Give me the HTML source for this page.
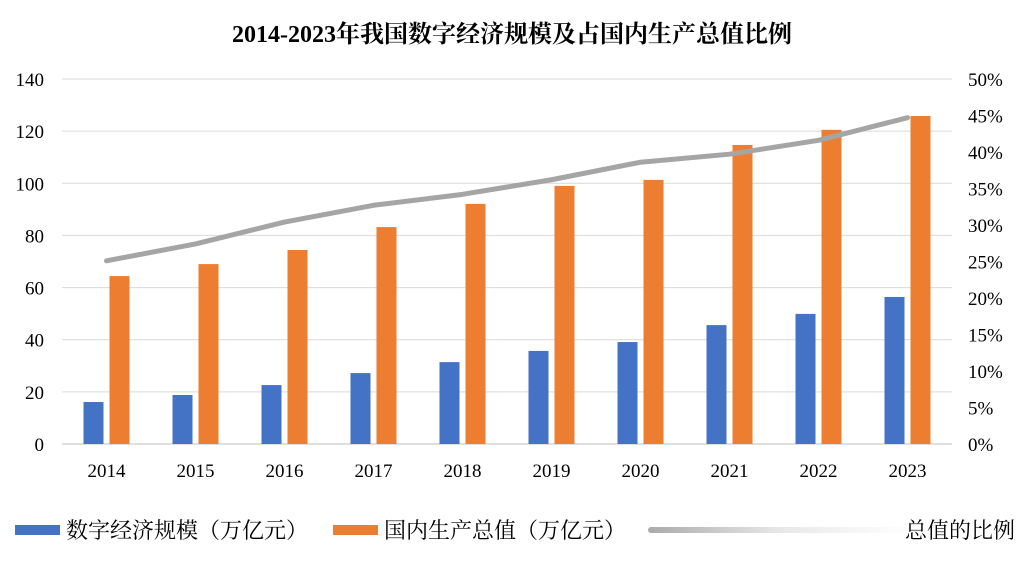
<!DOCTYPE html>
<html><head><meta charset="utf-8"><style>
body{margin:0;background:#fff;}
svg text{font-family:"Liberation Serif","Noto Serif CJK SC","Noto Sans CJK SC",serif;}
</style></head><body>
<svg width="1024" height="575" xmlns="http://www.w3.org/2000/svg">
<defs><linearGradient id="fade" x1="0" x2="1"><stop offset="0" stop-color="#aaa"/><stop offset="0.5" stop-color="#e8e8e8"/><stop offset="1" stop-color="#fff"/></linearGradient></defs>
<text x="512" y="42" text-anchor="middle" font-size="24" font-weight="bold">2014-2023年我国数字经济规模及占国内生产总值比例</text>
<g id="grid"></g><g id="bars"></g><g id="line"></g><g id="axes"></g>
<g>
<rect x="15" y="525" width="45" height="10" fill="#4472C4"/>
<text x="66" y="538" font-size="22">数字经济规模（万亿元）</text>
<rect x="333" y="525" width="45" height="10" fill="#ED7D31"/>
<text x="384" y="538" font-size="22">国内生产总值（万亿元）</text>
<rect x="648" y="527" width="265" height="6" rx="3" fill="url(#fade)"/>
<text x="1015" y="538" font-size="22" text-anchor="end">总值的比例</text>
</g>
</svg>
<script>
const years=["2014","2015","2016","2017","2018","2019","2020","2021","2022","2023"];
const digital=[16.1,18.8,22.6,27.2,31.4,35.7,39.1,45.6,49.9,56.4];
const gdp=[64.4,69.0,74.4,83.2,92.1,99.0,101.3,114.7,120.5,125.8];
const ratio=[25.1,27.4,30.4,32.7,34.2,36.2,38.6,39.7,41.6,44.7];
const leftTicks=[0,20,40,60,80,100,120,140];
const rightTicks=["0%","5%","10%","15%","20%","25%","30%","35%","40%","45%","50%"];
const NS="http://www.w3.org/2000/svg";
const x0=62,x1=952,yB=444,yT=79;
const yL=v=>yB-(v/140)*(yB-yT);
const yR=v=>yB-(v/50)*(yB-yT);
const step=(x1-x0)/years.length;
const xc=i=>x0+step*(i+0.5);
function mk(t,a,p){const e=document.createElementNS(NS,t);for(const k in a)e.setAttribute(k,a[k]);p.appendChild(e);return e;}
const g=document.getElementById('grid'),b=document.getElementById('bars'),l=document.getElementById('line'),ax=document.getElementById('axes');
leftTicks.forEach(v=>{
 const ln=mk('line',{x1:x0,x2:x1,y1:yL(v),y2:yL(v),stroke:v===0?'#bfbfbf':'#d9d9d9','stroke-width':1},g);
 
 
 const t=mk('text',{x:44,y:yL(v)+7,'text-anchor':'end','font-size':19},ax);t.textContent=v;
 
 
});
rightTicks.forEach((s,i)=>{
 const t=mk('text',{x:968,y:yR(i*5)+7,'font-size':19},ax);t.textContent=s;
 
 
});
years.forEach((y,i)=>{
 const bw=20;
 const r1=mk('rect',{x:xc(i)-bw-3,y:yL(digital[i]),width:bw,height:yB-yL(digital[i]),fill:'#4472C4'},b);
 
 
 const r2=mk('rect',{x:xc(i)+3,y:yL(gdp[i]),width:bw,height:yB-yL(gdp[i]),fill:'#ED7D31'},b);
 
 
 const t=mk('text',{x:xc(i),y:477,'text-anchor':'middle','font-size':19},ax);t.textContent=y;
 
 
});
const pts=ratio.map((v,i)=>xc(i)+','+yR(v)).join(' ');
const pl=mk('polyline',{points:pts,fill:'none',stroke:'#a5a5a5','stroke-width':5,'stroke-linejoin':'round','stroke-linecap':'round'},l);


</script>
</body></html>
